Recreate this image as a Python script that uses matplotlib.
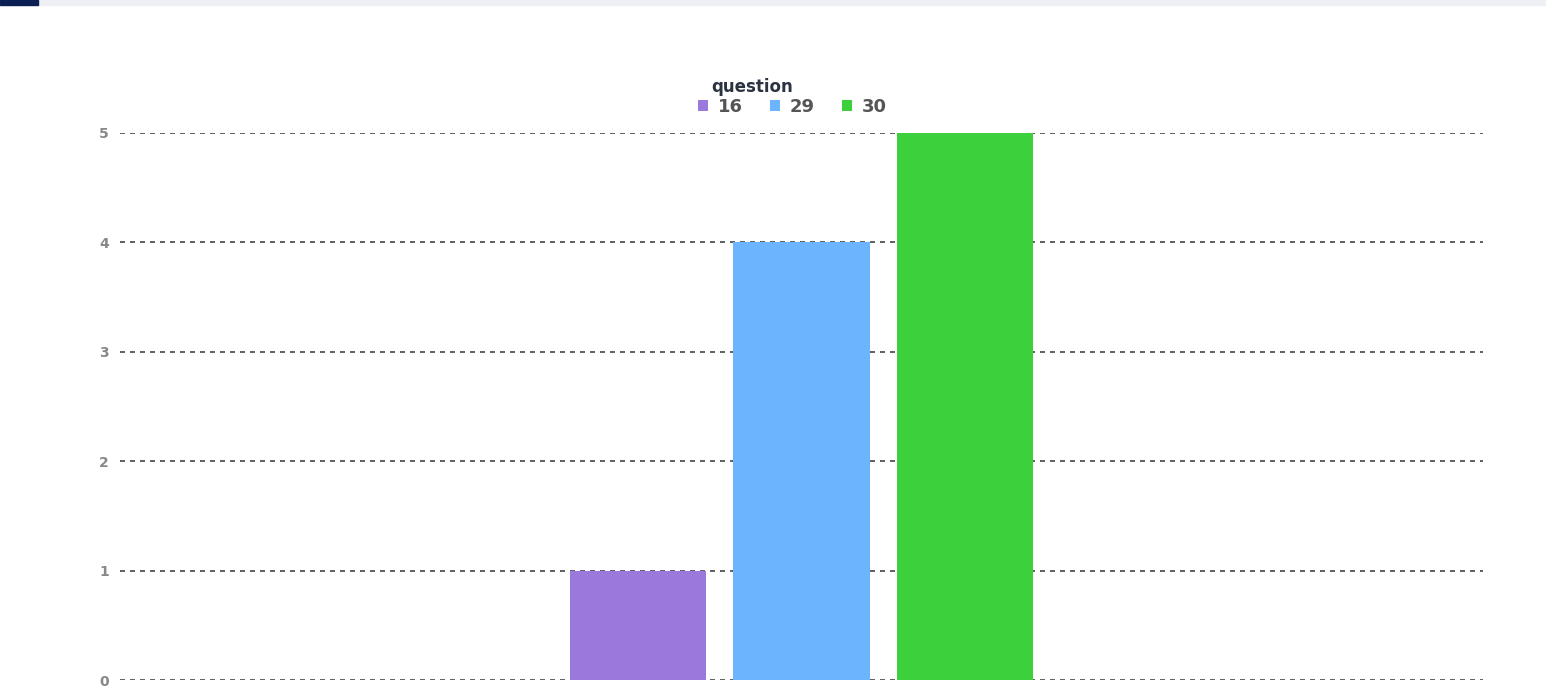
import matplotlib.pyplot as plt
from matplotlib.patches import Rectangle

# data
series = ["16", "29", "30"]
values = [1, 4, 5]
colors = ["#9b78dc", "#6db4fe", "#3dd03d"]

fig = plt.figure(figsize=(15.46, 6.89), dpi=100)
ax = fig.add_axes([120/1546, 9/689, 1363/1546, 547/689])

# top page strip
fig.patches.append(Rectangle((0, 684/689), 1, 5/689, transform=fig.transFigure,
                             color="#eff0f4", zorder=0))
fig.patches.append(Rectangle((0, 684/689), 38/1546, 5/689, transform=fig.transFigure,
                             color="#0b1f54", zorder=1))

width = 0.1
offsets = [-0.12, 0, 0.12]
handles = []
for name, v, c, off in zip(series, values, colors, offsets):
    h = ax.bar(off, v, width=width, color=c, zorder=2, label=name)
    handles.append(h)

ax.set_xlim(-0.5, 0.5)
ax.set_ylim(0, 5)
ax.set_yticks(range(6))
ax.set_xticks([])
for s in ax.spines.values():
    s.set_visible(False)
ax.grid(axis="y", linestyle=(0, (3, 3)), color="#444444", linewidth=1.2, zorder=3)
ax.tick_params(axis="y", length=0, pad=8, labelsize=10, labelcolor="#888888")
for t in ax.get_yticklabels():
    t.set_fontweight("bold")

fig.text(711/1546, 1 - 87/689, "question", fontsize=12, fontweight="bold",
         color="#2b3340", va="center")
leg = ax.legend(handles=handles, loc="center", bbox_to_anchor=(792/1546, 1 - 107/689),
                bbox_transform=fig.transFigure, ncol=3, frameon=False,
                handlelength=0.6, handleheight=0.6, handletextpad=0.5, columnspacing=1.5,
                prop={"size": 13, "weight": "bold"})
for t in leg.get_texts():
    t.set_color("#555555")

fig.savefig("out.png", dpi=100)
